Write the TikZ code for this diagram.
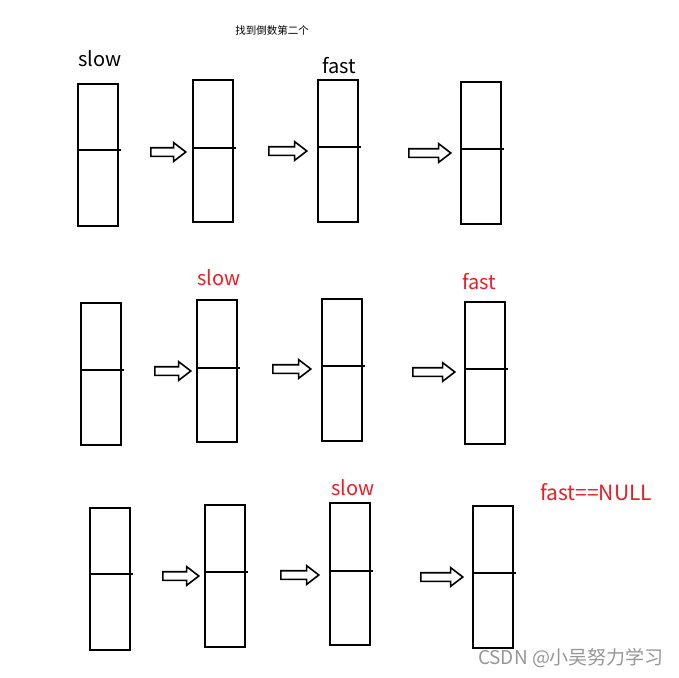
\documentclass[tikz,border=0pt]{standalone}
\usepackage{fontspec}
\setmainfont{Noto Sans CJK SC}
\usetikzlibrary{shapes.arrows}
\definecolor{markred}{RGB}{237,28,36}
\definecolor{markgray}{RGB}{150,150,150}

\begin{document}
\begin{tikzpicture}[x=1pt,y=-1pt,
  cell/.style={draw,line width=2pt,minimum width=40pt,minimum height=142pt,inner sep=0pt},
  mid/.style={line width=1.6pt},
  move/.style={single arrow,draw,line width=1.6pt,inner xsep=0pt,inner ysep=3.5pt,
    single arrow head extend=5pt,single arrow tip angle=75},
  ptr/.style={font=\fontsize{20}{20}\selectfont},
  redptr/.style={ptr,text=markred},
]
  \useasboundingbox (0,0) rectangle (679,677);
  \node[font=\fontsize{10.5}{10.5}\selectfont] (title) at (272,30) {找到倒数第二个};
  % list cells: name / left / top / middle line
  \foreach \n/\x/\t/\m in {a1/78/84/150, a2/193/80/148, a3/318/80/147, a4/461/82/149,
                           b1/81/303/370, b2/197/300/368, b3/322/299/366, b4/465/302/369,
                           c1/90/508/574, c2/205/505/572, c3/330/503/571, c4/473/506/573}
  {
    \node[cell] (\n) at (\x+20,\t+71) {};
    \draw[mid] (\x,\m) -- (\x+43,\m);
  }
  % steps
  \foreach \n/\x/\y/\l in {s1/165.5/152/35, s2/285/151/38, s3/427/153/42,
                           s4/170/371/36,   s5/289/369/38, s6/431/372/42,
                           s7/178/576/36,   s8/297/575/38, s9/439/577/42}
    \node[move,minimum height=\l pt] (\n) at (\x,\y) {};
  % pointers
  \node[ptr] (slow1) at (100,59) {slow};
  \node[ptr] (fast1) at (339,66) {fast};
  \node[redptr] (slow2) at (219,278) {slow};
  \node[redptr] (fast2) at (479,282) {fast};
  \node[redptr] (slow3) at (353,488) {slow};
  \node[redptr,font=\fontsize{21}{21}\selectfont] (fast3) at (596,492) {fast==NULL};
  \node[text=markgray,font=\fontsize{19}{19}\selectfont] (mark) at (571,658) {CSDN @小吴努力学习};
\end{tikzpicture}
\end{document}
